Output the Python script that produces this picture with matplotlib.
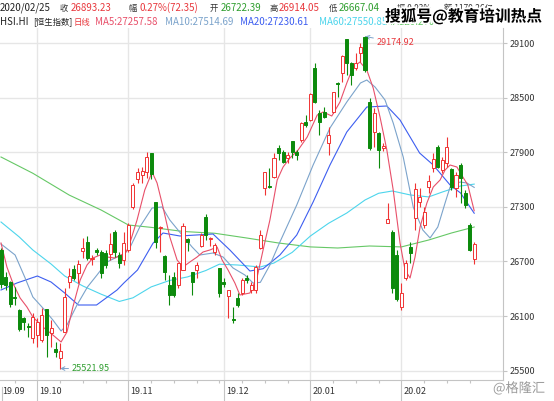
import matplotlib
matplotlib.use('Agg')
import matplotlib.pyplot as plt
import matplotlib.patheffects as pe
from matplotlib.lines import Line2D

plt.rcParams['font.family'] = ['Noto Sans CJK SC', 'DejaVu Sans']

# daily candles, HSI.HI (Sep 2019 - 2020/02/25)
opens = [26826, 26529, 26474, 26309, 26166, 26078, 25986, 25858, 25891, 25836,
         26177, 25913, 25737, 25638, 25924, 26474, 26617, 26573, 26815, 26914,
         26727, 26826, 26804, 26793, 26782, 27024, 26771, 26716, 26826, 27299,
         27607, 27651, 27684, 27893, 27354, 27068, 26760, 26441, 26529, 26441,
         26606, 26947, 26584, 26606, 26870, 27189, 26947, 26804, 26628, 26474,
         26320, 26067, 26298, 26353, 26518, 26386, 26386, 26848, 27508, 27530,
         27629, 27948, 27904, 27838, 28025, 27904, 28036, 28234, 28256, 28828,
         28333, 28344, 28003, 28344, 28663, 28773, 29147, 28883, 28828, 28993,
         29169, 28454, 28124, 28113, 27948, 27123, 27024, 26771, 26199, 26518,
         26859, 27178, 27354, 27101, 27519, 27728, 27959, 27706, 27783, 27717,
         27508, 27761, 27453, 27101, 26722.39]
highs = [26848, 26584, 26485, 26419, 26177, 26089, 26023, 26133, 26078, 26188,
         26177, 26056, 25814, 25803, 26408, 26628, 26661, 26716, 26958, 26980,
         26771, 26848, 26826, 26826, 27013, 27046, 26804, 27024, 27123, 27563,
         27728, 27739, 27904, 27893, 27354, 27090, 26771, 26551, 26584, 26683,
         27123, 26958, 26584, 26694, 27013, 27222, 26969, 26903, 26628, 26518,
         26386, 26199, 26353, 26518, 26551, 26474, 26661, 27046, 27684, 27728,
         27893, 27981, 27926, 27904, 28025, 27926, 28234, 28311, 28553, 28883,
         28366, 28399, 28179, 28564, 28674, 28971, 29147, 28894, 28993, 29103,
         29174.92, 28498, 28388, 28124, 28003, 27343, 27046, 26826, 26463, 26716,
         26914, 27563, 27508, 27299, 27651, 27893, 27981, 27849, 28069, 27728,
         27684, 27783, 27486, 27123, 26914.05]
lows = [26408, 26386, 26199, 26221, 25935, 25946, 25869, 25803, 25759, 25814,
        25649, 25759, 25649, 25521.95, 25924, 26408, 26496, 26463, 26738, 26716,
        26661, 26771, 26518, 26628, 26716, 26749, 26628, 26661, 26804, 27277,
        27563, 27563, 27618, 27607, 26848, 26804, 26496, 26221, 26309, 26408,
        26606, 26815, 26331, 26518, 26856, 26936, 26870, 26771, 26309, 26419,
        26078, 26023, 26199, 26331, 26463, 26353, 26353, 26837, 27431, 27508,
        27618, 27816, 27783, 27783, 27838, 27816, 28014, 28179, 28245, 28443,
        28091, 28278, 27871, 28333, 28509, 28674, 28751, 28641, 28806, 28894,
        28784, 27926, 27959, 27728, 27915, 27123, 26353, 26265, 26166, 26496,
        26683, 27046, 27299, 27068, 27453, 27684, 27728, 27673, 27739, 27486,
        27409, 27343, 27288, 26815, 26667.04]
closes = [26452, 26441, 26232, 26298, 25957, 26034, 25979, 26089, 26034, 26111,
          25891, 25968, 25704, 25715, 26309, 26540, 26518, 26672, 26848, 26738,
          26738, 26804, 26573, 26661, 26892, 26804, 26683, 26903, 27101, 27541,
          27684, 27695, 27849, 27662, 26914, 27079, 26584, 26331, 26331, 26683,
          27090, 26914, 26474, 26661, 26991, 26991, 26958, 26881, 26353, 26452,
          26386, 26056, 26221, 26496, 26496, 26441, 26639, 26991, 27684, 27518,
          27838, 27893, 27794, 27871, 27904, 27871, 28223, 28201, 28542, 28454,
          28234, 28289, 28091, 28564, 28652, 28960, 28883, 28751, 28883, 29059,
          28806, 27948, 28333, 27926, 27970, 27167, 26408, 26287, 26353, 26683,
          26793, 27497, 27409, 27244, 27585, 27827, 27739, 27816, 27959, 27519,
          27651, 27618, 27321, 26820.88, 26893.23]

# moving averages (x = candle index)
ma5_x = [0, 1.3, 2.6, 4.2, 5.7, 7, 9.2, 11.4, 13.2, 14.5, 15.8, 17.4, 18.9, 20.2,
         21.8, 23.3, 25, 27.3, 28, 29.9, 31.6, 33.2, 34.3, 35.6, 37.1, 38.7, 40,
         41.5, 43.1, 44.4, 45.9, 47.5, 48.6, 49.9, 51.4, 52.5, 54.7, 56.3, 57.6,
         59.1, 60.7, 62, 63.5, 65.3, 67.3, 69.5, 70.8, 72.7, 74.5, 76, 77.4, 78.9,
         80.4, 81.8, 83.3, 84.8, 86.2, 87.7, 88.8, 89.9, 91, 92.1, 93.6, 95, 96.5,
         97.6, 98.7, 100.2, 101.5, 102.6, 104]
ma5 = [26903, 26639, 26463, 26298, 26199, 26089, 25979, 25891, 25814, 25924,
       26199, 26496, 26661, 26738, 26771, 26749, 26738, 26793, 26850, 27156,
       27486, 27684, 27563, 27299, 26969, 26716, 26639, 26694, 26749, 26804,
       26826, 26859, 26716, 26606, 26463, 26331, 26353, 26529, 26826, 27156,
       27596, 27739, 27838, 27926, 28069, 28311, 28344, 28300, 28454, 28663,
       28839, 28894, 28806, 28608, 28289, 27926, 27486, 26903, 26606, 26518,
       26749, 27079, 27343, 27519, 27596, 27706, 27761, 27739, 27629, 27541,
       27257.58]
ma10_x = [0, 3.1, 5.3, 7, 9.2, 11.4, 13.2, 14.5, 16.7, 19, 21.1, 23.3, 25.5, 27.3,
          28.4, 30.5, 33.2, 35.4, 37.1, 39.8, 42, 43.7, 46.6, 48.8, 51, 53.6, 55.4,
          57, 59.1, 61.3, 65, 68.6, 72.3, 76, 79, 80.4, 82.2, 84.4, 86.2, 88.4,
          90.6, 92.7, 94.3, 96, 97.6, 98.7, 100.9, 102.4, 104]
ma10 = [26892, 26771, 26518, 26309, 26188, 26056, 25935, 26001, 26221, 26419,
        26551, 26694, 26749, 26793, 26859, 27079, 27288, 27299, 27156, 26991,
        26859, 26771, 26793, 26749, 26628, 26551, 26463, 26470, 26661, 26914,
        27321, 27761, 28168, 28454, 28663, 28696, 28619, 28476, 28223, 27849,
        27299, 27046, 26958, 27079, 27343, 27519, 27574, 27563, 27514.69]
ma20_x = [0, 3.5, 8, 11, 14, 17, 21, 25.5, 27, 30, 33.4, 35.6, 39.3, 46.6, 50.3,
          54.7, 57.6, 61.3, 65, 68.6, 72.3, 76, 80.4, 84.8, 87.7, 92, 95, 98.7,
          101, 104]
ma20 = [26386, 26463, 26540, 26474, 26353, 26221, 26221, 26386, 26463, 26606,
        26900, 27013, 26980, 27002, 26826, 26595, 26620, 26771, 26991, 27354,
        27761, 28124, 28399, 28410, 28256, 27893, 27761, 27541, 27453, 27230.61]
ma60_x = [0, 4, 7, 11, 14, 18, 22, 26, 29, 33, 37, 41, 45, 48, 52, 57, 60, 64, 68,
          72, 76, 80, 83, 86, 90, 94, 97, 101, 104]
ma60 = [27134, 26970, 26826, 26672, 26540, 26430, 26340, 26260, 26300, 26420,
        26490, 26530, 26600, 26670, 26661, 26639, 26683, 26800, 26980, 27120,
        27233, 27376, 27450, 27475, 27431, 27410, 27464, 27530, 27550.85]
ma120_x = [0, 7, 15, 22, 28, 33, 40, 47, 54, 61, 68, 74, 81, 88, 94, 99, 104]
ma120 = [27849, 27670, 27430, 27266, 27101, 27075, 27030, 27010, 26958, 26903,
         26860, 26848, 26870, 26860, 26936, 27013, 27079]

month_pos = [8, 28, 49, 68, 88]
month_labels = ['19.10', '19.11', '19.12', '20.01', '20.02']
week_pos = list(range(3, 105, 5))
price_ticks = [25500, 26100, 26700, 27300, 27900, 28500, 29100]

RED = '#f03333'
GREEN = '#0c8a0c'
TXT_RED = '#e8383d'
TXT_GREEN = '#2f9e2f'
C5 = '#e8506a'
C10 = '#7ba3cb'
C20 = '#3d5ef0'
C60 = '#4dd5ec'
C120 = '#66c866'
GRID = '#e6e6e6'
AXIS = '#c4c4c4'

W, H = 554, 401
fig = plt.figure(figsize=(W / 100, H / 100), dpi=100)
fig.patch.set_facecolor('white')
ax = fig.add_axes([0, 21 / H, 503 / W, 352 / H])
ax.set_xlim(-0.22, 110.33)
ax.set_ylim(25396, 29268)

# grid
ax.set_yticks(price_ticks)
ax.set_xticks(month_pos)
ax.set_xticks(week_pos, minor=True)
ax.set_xticklabels([])
ax.grid(True, which='major', color=GRID, lw=1.0, zorder=0)

# moving averages
ax.plot(ma120_x, ma120, color=C120, lw=0.8, zorder=2)
ax.plot(ma60_x, ma60, color=C60, lw=0.8, zorder=2)
ax.plot(ma20_x, ma20, color=C20, lw=0.8, zorder=2)
ax.plot(ma10_x, ma10, color=C10, lw=0.8, zorder=2)
ax.plot(ma5_x, ma5, color=C5, lw=0.8, zorder=2)

# candles
xs = list(range(len(opens)))
up = [c >= o for o, c in zip(opens, closes)]
cols = [RED if u else GREEN for u in up]
ax.vlines(xs, lows, highs, colors=cols, lw=0.8, zorder=3)
bottoms = [min(o, c) for o, c in zip(opens, closes)]
heights = [max(abs(c - o), 4) for o, c in zip(opens, closes)]
faces = ['white' if u else col for u, col in zip(up, cols)]
ax.bar(xs, heights, bottom=bottoms, width=0.66, color=faces, edgecolor=cols,
       linewidth=0.7, zorder=4)

# high / low markers
ax.annotate('29174.92', xy=(80, highs[80]), xytext=(8, -4), textcoords='offset points',
            ha='left', va='center', fontsize=6.5, color=TXT_RED,
            arrowprops=dict(arrowstyle='->', color=C10, lw=0.7, shrinkA=0, shrinkB=0))
ax.annotate('25521.95', xy=(13, lows[13]), xytext=(8, 0), textcoords='offset points',
            ha='left', va='center', fontsize=6.5, color=TXT_GREEN,
            arrowprops=dict(arrowstyle='->', color=C10, lw=0.7, shrinkA=0, shrinkB=0))

# axes styling
for s in ['left', 'top']:
    ax.spines[s].set_visible(False)
ax.spines['right'].set_color(AXIS)
ax.spines['bottom'].set_color(AXIS)
ax.yaxis.tick_right()
ax.tick_params(axis='y', length=3, pad=2, labelsize=6.5, colors=AXIS, labelcolor='#333333')
ax.tick_params(axis='x', which='major', length=15, width=0.8, colors=AXIS)
ax.tick_params(axis='x', which='minor', length=2.5, width=0.8, colors=AXIS)

ax.text(0.3, -0.034, '19.09', transform=ax.get_xaxis_transform(), ha='left', va='center',
        fontsize=6.5, color='#333333')
for p, lab in zip(month_pos, month_labels):
    ax.text(p + 0.4, -0.034, lab, transform=ax.get_xaxis_transform(), ha='left',
            va='center', fontsize=6.5, color='#333333')
fig.add_artist(Line2D([1.5 / W, 1.5 / W], [0, 14 / H], color=AXIS, lw=0.8))


def px_text(x, y, s, color, size=7, **kw):
    return fig.text(x / W, 1 - y / H, s, color=color, fontsize=size, ha='left', va='center', **kw)


# header row 1
px_text(0, 8, '2020/02/25', '#222222')
px_text(60, 8, '收', '#333333', 6)
px_text(71, 8, '26893.23', TXT_RED)
px_text(128, 8, '幅', '#333333', 6)
px_text(139, 8, '0.27%(72.35)', TXT_RED)
px_text(210, 8, '开', '#333333', 6)
px_text(221, 8, '26722.39', TXT_GREEN)
px_text(269, 8, '高', '#333333', 6)
px_text(279, 8, '26914.05', TXT_RED)
px_text(329, 8, '低', '#333333', 6)
px_text(339, 8, '26667.04', TXT_GREEN)
px_text(397, 8, '振 0.93%', '#333333', 6)
px_text(444, 8, '额 1179.26亿', '#333333', 6)

# header row 2
px_text(0, 22, 'HSI.HI', '#222222')
px_text(33, 22, '[恒生指数]', '#222222', 6)
px_text(74, 22, '日线', TXT_RED, 6)
px_text(95, 22, 'MA5:27257.58', C5)
px_text(165, 22, 'MA10:27514.69', C10)
px_text(240, 22, 'MA20:27230.61', C20)
px_text(319, 22, 'MA60:27550.85', C60)
px_text(385, 22, 'MA120:27079', C120)

# watermarks
px_text(385, 16.5, '搜狐号@教育培训热点', 'black', size=11.3, fontweight='bold',
        path_effects=[pe.withStroke(linewidth=2.5, foreground='white')])
px_text(493, 388, '@格隆汇', '#9a9a9a', size=9.5,
        path_effects=[pe.withStroke(linewidth=1.5, foreground='white')])

fig.savefig('out.png', dpi=100, facecolor='white')
